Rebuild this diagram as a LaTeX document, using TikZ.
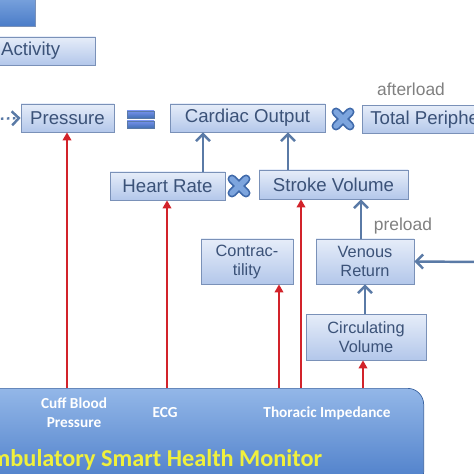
\documentclass[tikz,border=0pt]{standalone}
\usepackage{fontspec}
\setmainfont{Liberation Sans}
\newfontfamily\calib{Carlito}
\usetikzlibrary{arrows.meta}
\definecolor{boxline}{HTML}{7A91B8}
\definecolor{boxtop}{HTML}{E6EDF9}
\definecolor{boxbot}{HTML}{B3C7EA}
\definecolor{boxtext}{HTML}{3B5278}
\definecolor{flowc}{HTML}{5A7AA6}
\definecolor{redc}{HTML}{D2232A}
\definecolor{montop}{HTML}{93B7E8}
\definecolor{monbot}{HTML}{4A7CC8}
\definecolor{titley}{HTML}{F0F03C}

\begin{document}
\begin{tikzpicture}[every node/.style={font=\fontsize{10.6}{12.5}\selectfont}, >={Straight Barb[length=1.4mm, width=2.8mm]},
	m/.style={draw=boxline, top color=boxtop, bottom color=boxbot, minimum height=0.56cm, inner sep=0pt, text=boxtext},
	m2/.style={m, align=center, minimum height=0.90cm, font=\fontsize{9.3}{10.8}\selectfont},
	note/.style={text=black!50, font=\fontsize{9.9}{12}\selectfont},
	lbl/.style={text=white, align=center, font=\calib\bfseries\fontsize{8.7}{10.6}\selectfont},
	flow/.style={->, flowc, line width=1.4pt},
	sense/.style={-{Triangle[length=1.6mm, width=1.7mm]}, redc, line width=1.1pt}]
	\clip (0,0) rectangle (9.48,-9.48);
	% upper boxes
	\node[m, top color=montop, bottom color=monbot, minimum width=1.1cm, minimum height=0.9cm, anchor=south east] (head) at (0.72,-0.54) {};
	\node[m, text width=1.79cm, align=left, inner xsep=0.1cm, anchor=east] (act) at (1.92,-1.02) {Activity};
	\node[m, minimum width=1.86cm] (pres) at (1.35,-2.36) {Pressure};
	\node[m, minimum width=3.10cm] (co) at (4.95,-2.36) {Cardiac Output};
	\node[m, inner xsep=0.16cm, anchor=west] (tpr) at (7.24,-2.39) {Total Peripheral Resistance};
	\node[m, minimum width=2.30cm] (hr) at (3.35,-3.72) {Heart Rate};
	\node[m, minimum width=2.98cm, minimum height=0.58cm] (sv) at (6.67,-3.69) {Stroke Volume};
	\node[m2, minimum width=1.84cm] (ctr) at (4.94,-5.23) {Contrac-\\tility};
	\node[m2, minimum width=1.96cm] (vr) at (7.30,-5.23) {Venous\\Return};
	\node[m2, minimum width=2.40cm, minimum height=0.92cm] (circ) at (7.32,-6.74) {Circulating\\Volume};
	\node[note] (aft) at (8.22,-1.78) {afterload};
	\node[note] (pre) at (8.06,-4.52) {preload};
	% equals and times
	\foreach \y in {-2.22,-2.42} {\draw[draw=flowc, top color=montop!80!blue, bottom color=monbot!90!black] (2.54,\y) rectangle (3.08,\y-0.14);}
	\foreach \x/\y in {6.86/-2.38, 4.78/-3.72} {
		\draw[line width=0.18cm, color=monbot!85!black, line cap=round] (\x-0.14,\y-0.14) -- (\x+0.14,\y+0.14) (\x-0.14,\y+0.14) -- (\x+0.14,\y-0.14);
		\draw[line width=0.11cm, color=montop!70!monbot, line cap=round] (\x-0.14,\y-0.14) -- (\x+0.14,\y+0.14) (\x-0.14,\y+0.14) -- (\x+0.14,\y-0.14);}
	% monitor
	\node[draw=monbot!80!black, top color=montop, bottom color=monbot, rounded corners=0.32cm, minimum width=10cm, minimum height=2cm, anchor=north east] (mon) at (8.48,-7.76) {};
	\node[lbl] (cuff) at (1.48,-8.25) {Cuff Blood\\Pressure};
	\node[lbl] (ecg) at (3.30,-8.26) {ECG};
	\node[lbl] (thor) at (6.54,-8.26) {Thoracic Impedance};
	\node[text=titley, inner sep=0pt, anchor=east, font=\calib\bfseries\fontsize{13.8}{16}\selectfont] (title) at (6.45,-9.20) {Ambulatory Smart Health Monitor};
	% connectors
	\coordinate (inl) at (-0.1,-2.38);
	\coordinate (inr) at (9.6,-5.24);
	\draw[flow, dotted] (inl) -- (pres.west);
	\draw[flow] ([xshift=0.71cm]hr.north) -- ([xshift=0.71cm]hr.north |- co.south);
	\draw[flow] ([xshift=-0.91cm]sv.north) -- ([xshift=-0.91cm]sv.north |- co.south);
	\draw[flow] ([xshift=-0.08cm]vr.north) -- ([xshift=-0.08cm]vr.north |- sv.south);
	\draw[flow] ([xshift=-0.02cm]circ.north) -- ([xshift=-0.02cm]circ.north |- vr.south);
	\draw[flow] (inr) -- (vr.east);
	\foreach \n/\s in {pres/-0.01, hr/-0.01, ctr/0.64, sv/-0.65, circ/-0.06} {\draw[sense] ([xshift=\s cm]\n.south |- mon.north) -- ([xshift=\s cm]\n.south);}
\end{tikzpicture}
\end{document}
